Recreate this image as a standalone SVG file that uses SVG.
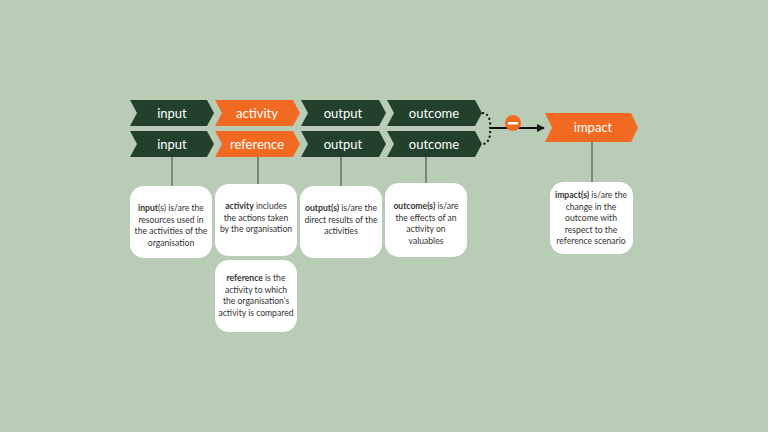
<svg xmlns="http://www.w3.org/2000/svg" width="768" height="432" viewBox="0 0 768 432">
<style>
.g{fill:#22402b}.o{fill:#f26a22}
.ct{font-family:Lato,"Open Sans",sans-serif;font-size:13px;fill:#fff;text-anchor:middle}
.bx{fill:#fff}
.bt{font-family:Lato,"Open Sans",sans-serif;font-size:8.6px;fill:#333;text-anchor:middle}
.bt b{font-weight:bold}
.ln{stroke:#555;stroke-width:1.2;fill:none}
</style>
<defs><marker id="ar" markerWidth="8" markerHeight="8" refX="7" refY="4" orient="auto" markerUnits="userSpaceOnUse"><path d="M0,0L8,4L0,8z" fill="#111"/></marker></defs>
<rect width="768" height="432" fill="#b9ccb6"/>
<g id="connectors">
<path class="ln" d="M172,157V186M258,157V184M341,157V186M426,157V183M592,142V182"/>
<path d="M482,113C492,113 490,128 490,128C490,128 492,144 482,144" stroke="#111" stroke-width="2" stroke-dasharray="2,2.5" fill="none"/>
<path d="M490,128H544" stroke="#111" stroke-width="2" marker-end="url(#ar)"/>
<circle cx="513" cy="123" r="8" fill="#f26a22"/><rect x="508" y="122" width="10" height="2.5" fill="#fff"/>
</g>
<g id="input1"><path class="g" d="M130,100H207L214,113L207,126H130L137,113z"/><text class="ct" x="172" y="118">input</text></g>
<g id="activity"><path class="o" d="M215,100H293L300,113L293,126H215L222,113z"/><text class="ct" x="257" y="118">activity</text></g>
<g id="output1"><path class="g" d="M301,100H379L386,113L379,126H301L308,113z"/><text class="ct" x="343" y="118">output</text></g>
<g id="outcome1"><path class="g" d="M387,100H475L482,113L475,126H387L394,113z"/><text class="ct" x="434" y="118">outcome</text></g>
<g id="input2"><path class="g" d="M130,131H207L214,144L207,157H130L137,144z"/><text class="ct" x="172" y="149">input</text></g>
<g id="reference"><path class="o" d="M215,131H293L300,144L293,157H215L222,144z"/><text class="ct" x="257" y="149">reference</text></g>
<g id="output2"><path class="g" d="M301,131H379L386,144L379,157H301L308,144z"/><text class="ct" x="343" y="149">output</text></g>
<g id="outcome2"><path class="g" d="M387,131H475L482,144L475,157H387L394,144z"/><text class="ct" x="434" y="149">outcome</text></g>
<g id="impact"><path class="o" d="M545,113H631L638,127.5L631,142H545L552,127.5z"/><text class="ct" x="593" y="132">impact</text></g>
<g id="box-input"><rect class="bx" x="130" y="186" width="82" height="72" rx="14"/><text class="bt" x="171" y="211"><tspan><tspan font-weight="bold">input</tspan>(s) is/are the</tspan><tspan x="171" dy="11.5">resources used in</tspan><tspan x="171" dy="11.5">the activities of the</tspan><tspan x="171" dy="11.5">organisation</tspan></text></g>
<g id="box-activity"><rect class="bx" x="215" y="184" width="82" height="72" rx="14"/><text class="bt" x="256" y="209"><tspan><tspan font-weight="bold">activity</tspan> includes</tspan><tspan x="256" dy="11.5">the actions taken</tspan><tspan x="256" dy="11.5">by the organisation</tspan></text></g>
<g id="box-reference"><rect class="bx" x="215" y="260" width="82" height="72" rx="14"/><text class="bt" x="256" y="281"><tspan><tspan font-weight="bold">reference</tspan> is the</tspan><tspan x="256" dy="11.5">activity to which</tspan><tspan x="256" dy="11.5">the organisation’s</tspan><tspan x="256" dy="11.5">activity is compared</tspan></text></g>
<g id="box-output"><rect class="bx" x="300" y="186" width="82" height="72" rx="14"/><text class="bt" x="341" y="211"><tspan><tspan font-weight="bold">output(s)</tspan> is/are the</tspan><tspan x="341" dy="11.5">direct results of the</tspan><tspan x="341" dy="11.5">activities</tspan></text></g>
<g id="box-outcome"><rect class="bx" x="385" y="183" width="82" height="74" rx="14"/><text class="bt" x="426" y="209"><tspan><tspan font-weight="bold">outcome(s)</tspan> is/are</tspan><tspan x="426" dy="11.5">the effects of an</tspan><tspan x="426" dy="11.5">activity on</tspan><tspan x="426" dy="11.5">valuables</tspan></text></g>
<g id="box-impact"><rect class="bx" x="550" y="182" width="83" height="72" rx="14"/><text class="bt" x="591" y="198"><tspan><tspan font-weight="bold">impact(s)</tspan> is/are the</tspan><tspan x="591" dy="11.5">change in the</tspan><tspan x="591" dy="11.5">outcome with</tspan><tspan x="591" dy="11.5">respect to the</tspan><tspan x="591" dy="11.5">reference scenario</tspan></text></g>
</svg>
